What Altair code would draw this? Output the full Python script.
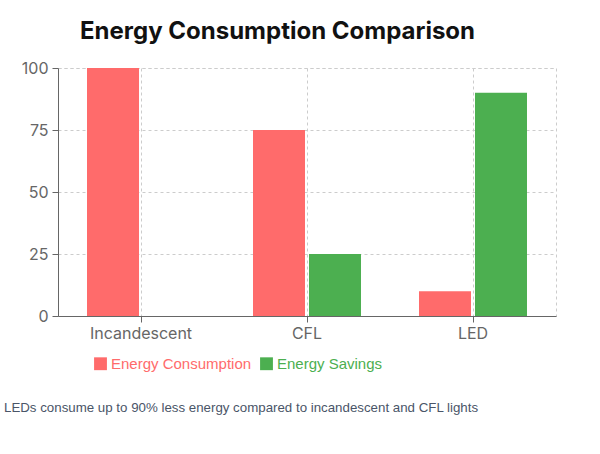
import altair as alt
import pandas as pd

categories = ["Incandescent", "CFL", "LED"]
consumption = [100, 75, 10]
savings = [0, 25, 90]
series = ["Energy Consumption", "Energy Savings"]
colors = ["#ff6b6b", "#4caf50"]
title_text = "Energy Consumption Comparison"
note = "LEDs consume up to 90% less energy compared to incandescent and CFL lights"
y_ticks = [0, 25, 50, 75, 100]

rows = []
for c, a, b in zip(categories, consumption, savings):
    rows.append({"type": c, "series": series[0], "value": a})
    rows.append({"type": c, "series": series[1], "value": b})
df = pd.DataFrame(rows)

FONT = "Inter"
FONT2 = "Liberation Sans"

bars = alt.Chart(df).mark_bar().encode(
    x=alt.X(
        "type:N",
        sort=categories,
        scale=alt.Scale(paddingInner=0, paddingOuter=0),
        axis=alt.Axis(
            title=None, labelAngle=0, grid=True, gridDash=[3, 3], gridColor="#cccccc",
            domainColor="#666666", tickColor="#666666", tickSize=6,
            labelColor="#666666", labelFontSize=16, labelFont=FONT, labelPadding=3,
        ),
    ),
    xOffset=alt.XOffset(
        "series:N", sort=series,
        scale=alt.Scale(paddingInner=0.0714, paddingOuter=0.518),
    ),
    y=alt.Y(
        "value:Q",
        scale=alt.Scale(domain=[0, 100], nice=False),
        axis=alt.Axis(
            title=None, values=y_ticks, grid=True, gridDash=[3, 3], gridColor="#cccccc",
            domainColor="#666666", tickColor="#666666", tickSize=6,
            labelColor="#666666", labelFontSize=16, labelFont=FONT, labelPadding=4,
        ),
    ),
    color=alt.Color(
        "series:N",
        sort=series,
        scale=alt.Scale(domain=series, range=colors),
        legend=alt.Legend(
            title=None, orient="none", legendX=35, legendY=288, direction="horizontal",
            symbolType="square", symbolSize=165, symbolStrokeWidth=0, symbolOpacity=1,
            labelFontSize=15, labelFont=FONT2, labelOffset=3, columnPadding=7,
            labelColor=alt.expr("datum.label == 'Energy Consumption' ? '#ff6b6b' : '#4caf50'"),
        ),
    ),
)

note_layer = alt.Chart(pd.DataFrame({"t": [note]})).mark_text(
    align="left", baseline="middle", fontSize=13.3, font=FONT2, color="#4a5568"
).encode(text="t:N", x=alt.value(-54), y=alt.value(340))

chart = alt.layer(bars, note_layer).properties(
    width=498,
    height=248,
    title=alt.Title(
        title_text, anchor="start", frame="group", fontSize=24, fontWeight="bold", font=FONT,
        color="#111111", dx=22, offset=16,
    ),
    padding={"left": 58, "top": 68, "right": 44, "bottom": 138},
    autosize=alt.AutoSizeParams(type="none"),
).configure_view(stroke="#cccccc", strokeDash=[3, 3])

chart.save("out.html", embed_options={"renderer": "svg", "actions": False})
